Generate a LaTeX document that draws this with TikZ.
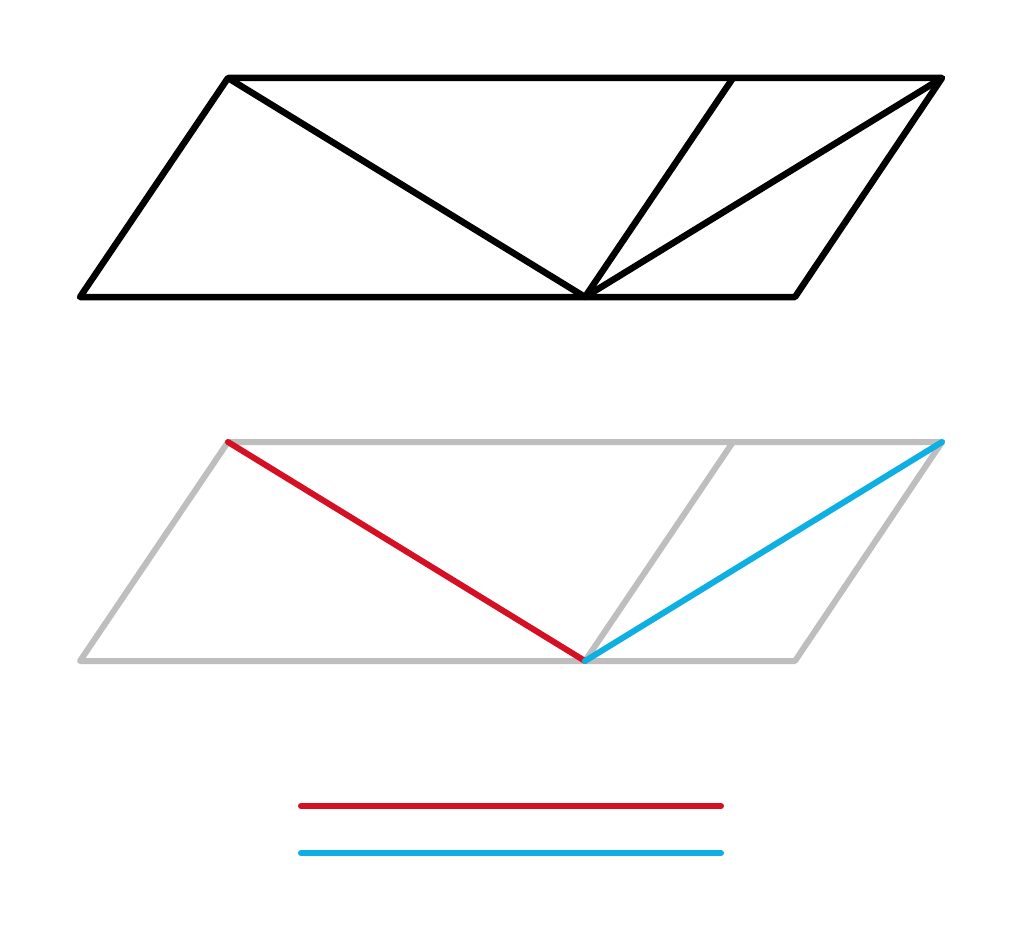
\documentclass[tikz,border=0pt]{standalone}
\usepackage{tikz}
\usetikzlibrary{calc}
\definecolor{illred}{RGB}{213,16,36}
\definecolor{illblue}{RGB}{14,176,228}
\definecolor{illgray}{RGB}{190,190,190}

\begin{document}
\begin{tikzpicture}[x=1pt,y=-1pt,line join=round,
                    frame/.style={line width=6.5pt,black},
                    faint/.style={line width=6pt,illgray},
                    seg/.style={line width=6pt,line cap=round}]
  \useasboundingbox[fill=white] (0,0) rectangle (1023,934);
  % upper parallelogram
  \coordinate (A) at (228,78);   \coordinate (B) at (942,78);
  \coordinate (C) at (795,297);  \coordinate (D) at (80,297);
  \coordinate (M) at (733,78);   \coordinate (V) at (585,297);
  \draw[frame] (A) -- (B) -- (C) -- (D) -- cycle;
  \draw[frame] (A) -- (V) -- (M);
  \draw[frame] (V) -- (B);

  % lower parallelogram
  \coordinate (A2) at (228,442);  \coordinate (B2) at (942,442);
  \coordinate (C2) at (795,661);  \coordinate (D2) at (80,661);
  \coordinate (M2) at (733,442);  \coordinate (V2) at (585,661);
  \draw[faint] (A2) -- (B2) -- (C2) -- (D2) -- cycle;
  \draw[faint] (V2) -- (M2);
  \draw[seg,illred] (A2) -- (V2);
  \draw[seg,illblue] (V2) -- (B2);

  % comparison
  \coordinate (R1) at (301,806);  \coordinate (R2) at (721,806);
  \coordinate (S1) at (301,853);  \coordinate (S2) at (721,853);
  \draw[seg,illred] (R1) -- (R2);
  \draw[seg,illblue] (S1) -- (S2);
\end{tikzpicture}
\end{document}
